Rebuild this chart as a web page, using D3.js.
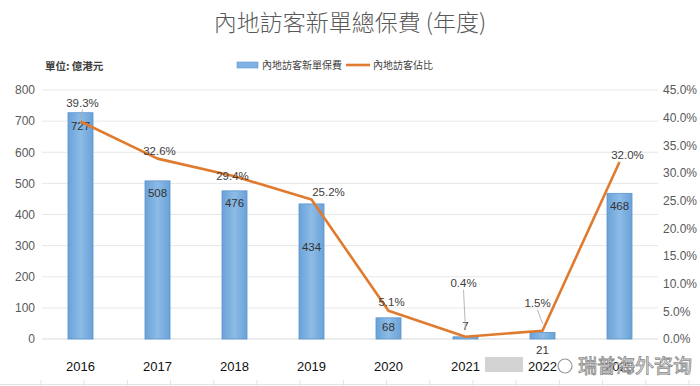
<!DOCTYPE html>
<html>
<head>
<meta charset="utf-8">
<script src="https://cdn.jsdelivr.net/npm/d3@7"></script>
<style>
  body { margin: 0; background: #fff; }
  svg { display: block; font-family: "Liberation Sans", Arial, sans-serif; }
  .cjk { font-family: "Noto Sans CJK TC", "Noto Sans CJK SC", sans-serif; }
</style>
</head>
<body>
<svg width="700" height="386"></svg>
<script>
let width = 700,
    height = 386,
    margin = ({ top: 90, right: 42, bottom: 47, left: 42 }); // plot area 42..658 x 90..339

// data
const years = ["2016", "2017", "2018", "2019", "2020", "2021", "2022", "2023"];
const premium = [727, 508, 476, 434, 68, 7, 21, 468];          // 億港元
const share = [39.3, 32.6, 29.4, 25.2, 5.1, 0.4, 1.5, 32.0];   // %
const leftTicks = [0, 100, 200, 300, 400, 500, 600, 700, 800];
const rightTicks = [0, 5, 10, 15, 20, 25, 30, 35, 40, 45];

// label placement (layout only)
const pctOffset = [[2, -19], [2, -8], [-2, 0], [17, -8], [3, -9], [-2, -54], [-5, -28], [8, -7]];
const barLabelDy = [13, 12, 12, 43, 9, -11, 18, 13];

const svg = d3.select("svg");

const x = d3.scaleBand()
  .domain(years)
  .range([margin.left, width - margin.right])
  .paddingInner(0.675)
  .paddingOuter(0.3375);

const yL = d3.scaleLinear().domain([0, 800]).range([height - margin.bottom, margin.top]);
const yR = d3.scaleLinear().domain([0, 45]).range([height - margin.bottom, margin.top]);

// gridlines
svg.append("g")
  .selectAll("line")
  .data(leftTicks)
  .join("line")
  .attr("x1", margin.left)
  .attr("x2", width - margin.right)
  .attr("y1", d => yL(d))
  .attr("y2", d => yL(d))
  .attr("stroke", d => d === 0 ? "#d9d9d9" : "#e8e8e8")
  .attr("stroke-width", 1);

// left axis
const axL = d3.axisLeft(yL).tickValues(leftTicks).tickSize(0).tickPadding(7);
svg.append("g")
  .attr("transform", `translate(${margin.left},0)`)
  .call(axL)
  .call(g => g.select(".domain").remove())
  .selectAll("text")
  .attr("font-size", 12)
  .attr("fill", "#595959")
  .attr("font-family", "Liberation Sans, Arial, sans-serif");

// right axis
const axR = d3.axisRight(yR).tickValues(rightTicks).tickSize(0).tickPadding(5)
  .tickFormat(d => d.toFixed(1) + "%");
svg.append("g")
  .attr("transform", `translate(${width - margin.right},0)`)
  .call(axR)
  .call(g => g.select(".domain").remove())
  .selectAll("text")
  .attr("font-size", 12)
  .attr("fill", "#595959")
  .attr("font-family", "Liberation Sans, Arial, sans-serif");

// bar gradient
const defs = svg.append("defs");
const grad = defs.append("linearGradient").attr("id", "barGrad").attr("x1", "0").attr("x2", "1");
grad.append("stop").attr("offset", "0").attr("stop-color", "#6aa2d8");
grad.append("stop").attr("offset", "0.5").attr("stop-color", "#8cbbe6");
grad.append("stop").attr("offset", "1").attr("stop-color", "#6aa2d8");

// bars
svg.append("g")
  .selectAll("rect")
  .data(years)
  .join("rect")
  .attr("x", d => x(d))
  .attr("y", (d, i) => yL(premium[i]))
  .attr("width", x.bandwidth())
  .attr("height", (d, i) => yL(0) - yL(premium[i]))
  .attr("fill", "url(#barGrad)")
  .attr("stroke", "#5b96cf")
  .attr("stroke-width", 0.8);

// bar value labels
svg.append("g")
  .selectAll("text")
  .data(years)
  .join("text")
  .attr("x", d => x(d) + x.bandwidth() / 2)
  .attr("y", (d, i) => yL(premium[i]) + barLabelDy[i])
  .attr("dy", "0.35em")
  .attr("text-anchor", "middle")
  .attr("font-size", 11.5)
  .attr("fill", "#333")
  .text((d, i) => premium[i]);

// line
const cx = d => x(d) + x.bandwidth() / 2;
const line = d3.line()
  .x(d => cx(d))
  .y((d, i) => yR(share[i]));

// leader lines for offset labels
svg.append("g")
  .selectAll("line")
  .data([0, 5, 6])
  .join("line")
  .attr("x1", i => cx(years[i]) + pctOffset[i][0])
  .attr("y1", i => yR(share[i]) + pctOffset[i][1] + 7)
  .attr("x2", i => cx(years[i]))
  .attr("y2", i => yR(share[i]) - (i === 0 ? 2 : 7))
  .attr("stroke", "#a6a6a6")
  .attr("stroke-width", 0.8);

svg.append("path")
  .datum(years)
  .attr("d", line)
  .attr("fill", "none")
  .attr("stroke", "#e07a2e")
  .attr("stroke-width", 2.6)
  .attr("stroke-linejoin", "round");

// percentage labels
svg.append("g")
  .selectAll("text")
  .data(years)
  .join("text")
  .attr("x", (d, i) => cx(d) + pctOffset[i][0])
  .attr("y", (d, i) => yR(share[i]) + pctOffset[i][1])
  .attr("dy", "0.35em")
  .attr("text-anchor", "middle")
  .attr("font-size", 11.5)
  .attr("fill", "#404040")
  .text((d, i) => share[i].toFixed(1) + "%");

// year labels
svg.append("g")
  .selectAll("text")
  .data(years)
  .join("text")
  .attr("x", d => cx(d))
  .attr("y", 366)
  .attr("dy", "0.35em")
  .attr("text-anchor", "middle")
  .attr("font-size", 13)
  .attr("fill", "#111")
  .text(d => d);

// bottom sheet grid
svg.append("line")
  .attr("x1", 0).attr("x2", width)
  .attr("y1", 384.5).attr("y2", 384.5)
  .attr("stroke", "#e3e3e3");
svg.append("g")
  .selectAll("line")
  .data(d3.range(41, width, 43.2))
  .join("line")
  .attr("x1", d => d).attr("x2", d => d)
  .attr("y1", 380).attr("y2", 386)
  .attr("stroke", "#e3e3e3");

// title
svg.append("text")
  .attr("class", "cjk")
  .attr("x", 350)
  .attr("y", 31)
  .attr("text-anchor", "middle")
  .attr("font-size", 23)
  .attr("font-weight", 300)
  .attr("fill", "#595959")
  .text("內地訪客新單總保費 (年度)");

// unit
svg.append("text")
  .attr("class", "cjk")
  .attr("x", 45)
  .attr("y", 70)
  .attr("font-size", 10.5)
  .attr("font-weight", 700)
  .attr("fill", "#404040")
  .text("單位: 億港元");

// legend
const legend = svg.append("g").attr("class", "cjk");
legend.append("rect")
  .attr("x", 237).attr("y", 62).attr("width", 21).attr("height", 6)
  .attr("fill", "#7fb2e2").attr("stroke", "#5b96cf").attr("stroke-width", 0.6);
legend.append("text")
  .attr("x", 262).attr("y", 69)
  .attr("font-size", 10).attr("fill", "#404040")
  .text("內地訪客新單保費");
legend.append("line")
  .attr("x1", 346).attr("x2", 370).attr("y1", 65).attr("y2", 65)
  .attr("stroke", "#e07a2e").attr("stroke-width", 2.6);
legend.append("text")
  .attr("x", 373).attr("y", 69)
  .attr("font-size", 10).attr("fill", "#404040")
  .text("內地訪客佔比");

// watermark
svg.append("rect")
  .attr("x", 485).attr("y", 357).attr("width", 38).attr("height", 15)
  .attr("fill", "#c8c8c8").attr("opacity", 0.8);
svg.append("circle")
  .attr("cx", 565).attr("cy", 366).attr("r", 7)
  .attr("fill", "none").attr("stroke", "#999").attr("stroke-width", 1.2);
svg.append("text")
  .attr("class", "cjk")
  .attr("x", 578).attr("y", 373)
  .attr("font-size", 19)
  .attr("fill", "#fff")
  .attr("stroke", "#888")
  .attr("stroke-width", 0.8)
  .text("瑞普海外咨询");
</script>
</body>
</html>
